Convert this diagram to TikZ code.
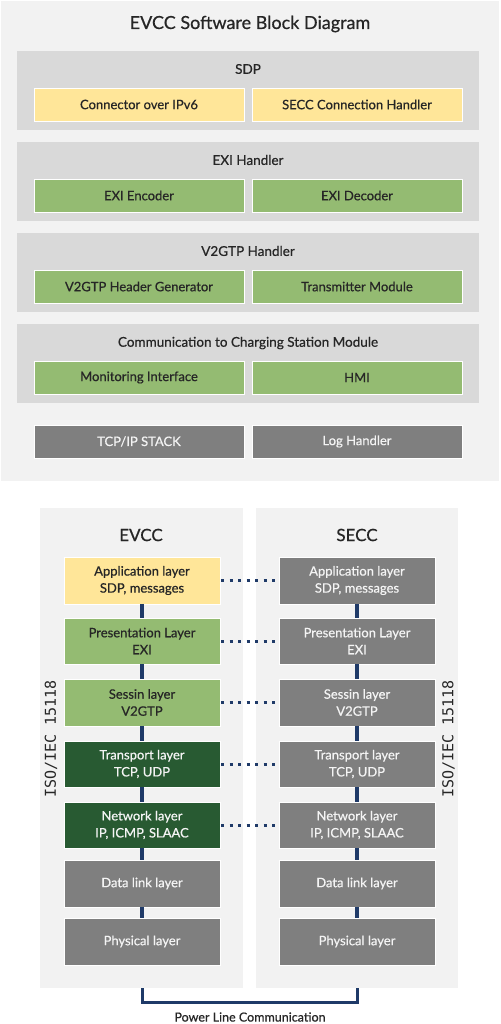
\documentclass[tikz,border=0pt]{standalone}
\usepackage{fontspec}
\setmainfont{Lato}[FakeBold=0.6]
\newfontfamily\isofont{DejaVu Sans Mono}
\definecolor{panelbg}{HTML}{F2F2F2}
\definecolor{groupbg}{HTML}{D9D9D9}
\definecolor{ylw}{HTML}{FFE699}
\definecolor{lgreen}{HTML}{94BB72}
\definecolor{dgreen}{HTML}{285A32}
\definecolor{dgray}{HTML}{7F7F7F}
\definecolor{navy}{HTML}{1F3A68}
\definecolor{txt}{HTML}{262626}
\definecolor{wtxt}{HTML}{F4F4F4}
\begin{document}
\begin{tikzpicture}[x=1pt,y=-1pt,
  every node/.style={inner sep=0pt,outer sep=0pt,font=\fontsize{13}{16}\selectfont,text=txt},
  modbox/.style={minimum width=210pt,minimum height=33pt,draw=white,line width=0.4pt},
  layerbox/.style={minimum width=156pt,minimum height=46.5pt,align=center,draw=white,line width=0.4pt,font=\fontsize{13}{17}\selectfont},
  yel/.style={fill=ylw},
  lgr/.style={fill=lgreen},
  dgr/.style={fill=dgreen,text=wtxt},
  gry/.style={fill=dgray,text=wtxt},
  grouplabel/.style={font=\fontsize{13.5}{16}\selectfont},
  vlink/.style={draw=navy,line width=3.3pt},
  dotlink/.style={draw=navy,line width=3pt,dash pattern=on 3pt off 5.5pt,shorten <=1pt},
  isolabel/.style={rotate=90,font=\isofont\fontsize{15}{15}\selectfont,text=txt}
]
\useasboundingbox (0,0) rectangle (500,1024);
\fill[white] (0,0) rectangle (500,1024);
% ---------- top panel ----------
\fill[panelbg] (1,1) rectangle (499,481);
\node[font=\fontsize{18}{20}\selectfont] (title) at (250,24) {EVCC Software Block Diagram};

\fill[groupbg] (17,51) rectangle (479,130);
\node[grouplabel] (gsdp) at (248,69) {SDP};
\node[modbox,yel] (conn) at (139,104.5) {Connector over IPv6};
\node[modbox,yel] (secch) at (357,104.5) {SECC Connection Handler};

\fill[groupbg] (17,142) rectangle (479,221);
\node[grouplabel] (gexi) at (248,160) {EXI Handler};
\node[modbox,lgr] (exienc) at (139,195.5) {EXI Encoder};
\node[modbox,lgr] (exidec) at (357,195.5) {EXI Decoder};

\fill[groupbg] (17,233) rectangle (479,312);
\node[grouplabel] (gv2g) at (248,251) {V2GTP Handler};
\node[modbox,lgr] (v2ghg) at (139,286.5) {V2GTP Header Generator};
\node[modbox,lgr] (trans) at (357,286.5) {Transmitter Module};

\fill[groupbg] (17,324) rectangle (479,403);
\node[grouplabel] (gcomm) at (248,343) {Communication to Charging Station Module};
\node[modbox,lgr] (monif) at (139,377.5) {Monitoring Interface};
\node[modbox,lgr] (hmi) at (357,377.5) {HMI};

\node[modbox,gry] (tcpip) at (139,441.5) {TCP/IP STACK};
\node[modbox,gry] (loghd) at (357,441.5) {Log Handler};

% ---------- bottom panels ----------
\fill[panelbg] (40,508) rectangle (243,988);
\fill[panelbg] (256,508) rectangle (458,988);
\node[font=\fontsize{17}{20}\selectfont] (evcc) at (141,535) {EVCC};
\node[font=\fontsize{17}{20}\selectfont] (secc) at (357,535) {SECC};

\node[isolabel] (isoL) at (51,739) {ISO/IEC 15118};
\node[isolabel] (isoR) at (448.5,739) {ISO/IEC 15118};

% EVCC stack
\node[layerbox,yel] (e1) at (142,580.5) {Application layer\\SDP, messages};
\node[layerbox,lgr] (e2) at (142,641) {Presentation Layer\\EXI};
\node[layerbox,lgr] (e3) at (142,702.5) {Sessin layer\\V2GTP};
\node[layerbox,dgr] (e4) at (142,764) {Transport layer\\TCP, UDP};
\node[layerbox,dgr] (e5) at (142,825) {Network layer\\IP, ICMP, SLAAC};
\node[layerbox,gry] (e6) at (142,883.5) {Data link layer};
\node[layerbox,gry] (e7) at (142,941.5) {Physical layer};
% SECC stack
\node[layerbox,gry] (s1) at (357,580.5) {Application layer\\SDP, messages};
\node[layerbox,gry] (s2) at (357,641) {Presentation Layer\\EXI};
\node[layerbox,gry] (s3) at (357,702.5) {Sessin layer\\V2GTP};
\node[layerbox,gry] (s4) at (357,764) {Transport layer\\TCP, UDP};
\node[layerbox,gry] (s5) at (357,825) {Network layer\\IP, ICMP, SLAAC};
\node[layerbox,gry] (s6) at (357,883.5) {Data link layer};
\node[layerbox,gry] (s7) at (357,941.5) {Physical layer};

% vertical links
\foreach \a/\b in {1/2,2/3,3/4,4/5,5/6,6/7}{
  \draw[vlink] (e\a.south) -- (e\b.north);
  \draw[vlink] (s\a.south) -- (s\b.north);
}
% peer (dotted) links
\foreach \i in {1,...,5}{
  \draw[dotlink] (e\i.east) -- (s\i.west);
}
% power line
\coordinate (plL) at (142,988);
\coordinate (plR) at (357,988);
\draw[draw=navy,line width=3pt] (plL) -- (142,1002.5) -- (357,1002.5) -- (plR);
\node[font=\fontsize{12.5}{15}\selectfont] (plc) at (250,1017) {Power Line Communication};
\end{tikzpicture}
\end{document}
